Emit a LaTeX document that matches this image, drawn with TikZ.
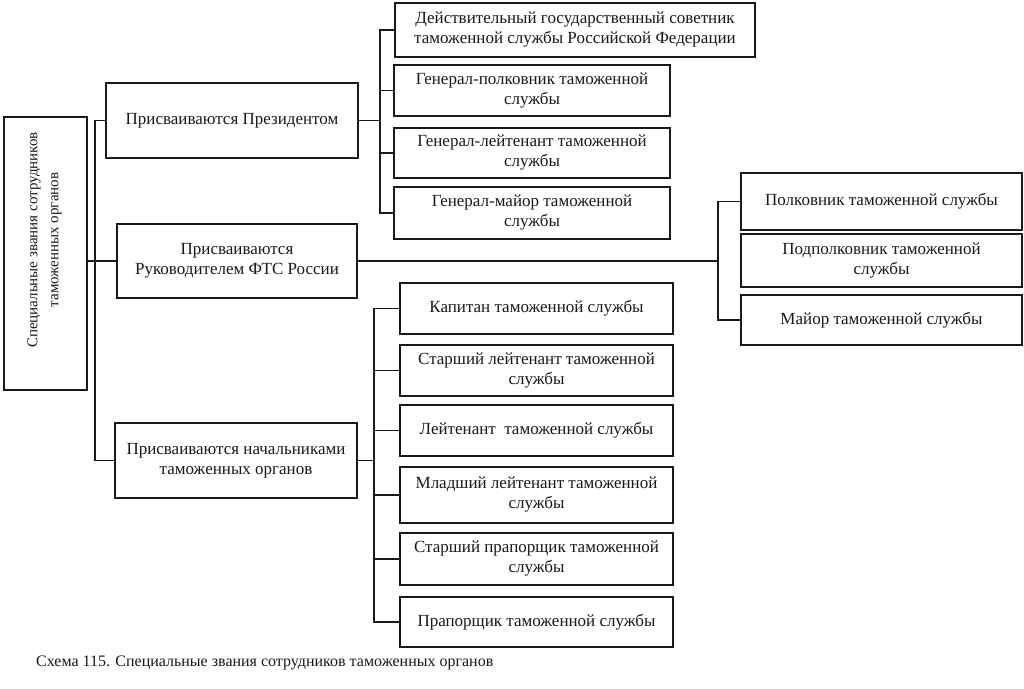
\documentclass[tikz,border=0pt]{standalone}
\usepackage{fontspec}
\setmainfont{Liberation Serif}
\definecolor{ink}{RGB}{25,25,25}
\tikzset{
  box/.style={draw=ink, line width=2.6pt, fill=white, inner sep=2pt, align=center,
    text=ink, font=\fontsize{17}{20}\selectfont},
  conn/.style={draw=ink, line width=1.3pt},
  roottext/.style={rotate=90, align=center, text=ink, font=\fontsize{15}{21}\selectfont},
  captext/.style={text=ink, font=\fontsize{16}{18}\selectfont, anchor=west, inner sep=0pt}
}
\begin{document}
\begin{tikzpicture}[x=1pt,y=-1pt]
\useasboundingbox[fill=white] (0,0) rectangle (1024,688);

% root
\node[box, minimum width=83, minimum height=273] (root) at (45.5,253.5) {};
\node[roottext] (rootlbl) at (44.5,240) {Специальные звания сотрудников\\таможенных органов};

% second level
\node[box, minimum width=252, minimum height=75] (b1) at (232,120.5) {Присваиваются Президентом};
\node[box, minimum width=240, minimum height=74] (b2) at (237,261) {Присваиваются\\Руководителем ФТС России};
\node[box, minimum width=242, minimum height=75] (b3) at (236,460.5) {Присваиваются начальниками\\таможенных органов};

% president ranks
\node[box, minimum width=360, minimum height=54] (r1) at (575,30) {Действительный государственный советник\\таможенной службы Российской Федерации};
\node[box, minimum width=276, minimum height=51] (r2) at (532,90.5) {Генерал-полковник таможенной\\службы};
\node[box, minimum width=276, minimum height=50] (r3) at (532,153) {Генерал-лейтенант таможенной\\службы};
\node[box, minimum width=276, minimum height=52] (r4) at (532,213) {Генерал-майор таможенной\\службы};

% FTS head ranks
\node[box, minimum width=281, minimum height=57] (p1) at (881.5,201.5) {Полковник таможенной службы};
\node[box, minimum width=281, minimum height=53] (p2) at (881.5,260.5) {Подполковник таможенной\\службы};
\node[box, minimum width=281, minimum height=50] (p3) at (881.5,320) {Майор таможенной службы};

% chiefs ranks
\node[box, minimum width=273, minimum height=51] (k1) at (536.5,308.5) {Капитан таможенной службы};
\node[box, minimum width=273, minimum height=51] (k2) at (536.5,370.5) {Старший лейтенант таможенной\\службы};
\node[box, minimum width=273, minimum height=51] (k3) at (536.5,430.5) {Лейтенант\ \ таможенной службы};
\node[box, minimum width=273, minimum height=56] (k4) at (536.5,495) {Младший лейтенант таможенной\\службы};
\node[box, minimum width=273, minimum height=52] (k5) at (536.5,559) {Старший прапорщик таможенной\\службы};
\node[box, minimum width=273, minimum height=50] (k6) at (536.5,622) {Прапорщик таможенной службы};

% bracket coordinates
\coordinate (tr) at (95,0);
\coordinate (br1) at (380,0);
\coordinate (br2) at (718,0);
\coordinate (br3) at (374,0);

% trunk
\draw[conn] (b1.west) -| (tr |- b3.west) -- (b3.west);
\draw[conn] (root.east |- b2.west) -- (b2.west);

% president bracket
\draw[conn] (b1.east) -- (br1 |- b1.east);
\draw[conn] (r1.west) -| (br1 |- r4.west) -- (r4.west);
\draw[conn] (br1 |- r2.west) -- (r2.west);
\draw[conn] (br1 |- r3.west) -- (r3.west);

% FTS bracket
\draw[conn] (b2.east) -- (br2 |- b2.east);
\draw[conn] (p1.west) -| (br2 |- p3.west) -- (p3.west);

% chiefs bracket
\draw[conn] (b3.east) -- (br3 |- b3.east);
\draw[conn] (k1.west) -| (br3 |- k6.west) -- (k6.west);
\draw[conn] (br3 |- k2.west) -- (k2.west);
\draw[conn] (br3 |- k3.west) -- (k3.west);
\draw[conn] (br3 |- k4.west) -- (k4.west);
\draw[conn] (br3 |- k5.west) -- (k5.west);

% caption
\node[captext] (cap) at (36,663) {Схема 115. Специальные звания сотрудников таможенных органов};
\end{tikzpicture}
\end{document}
